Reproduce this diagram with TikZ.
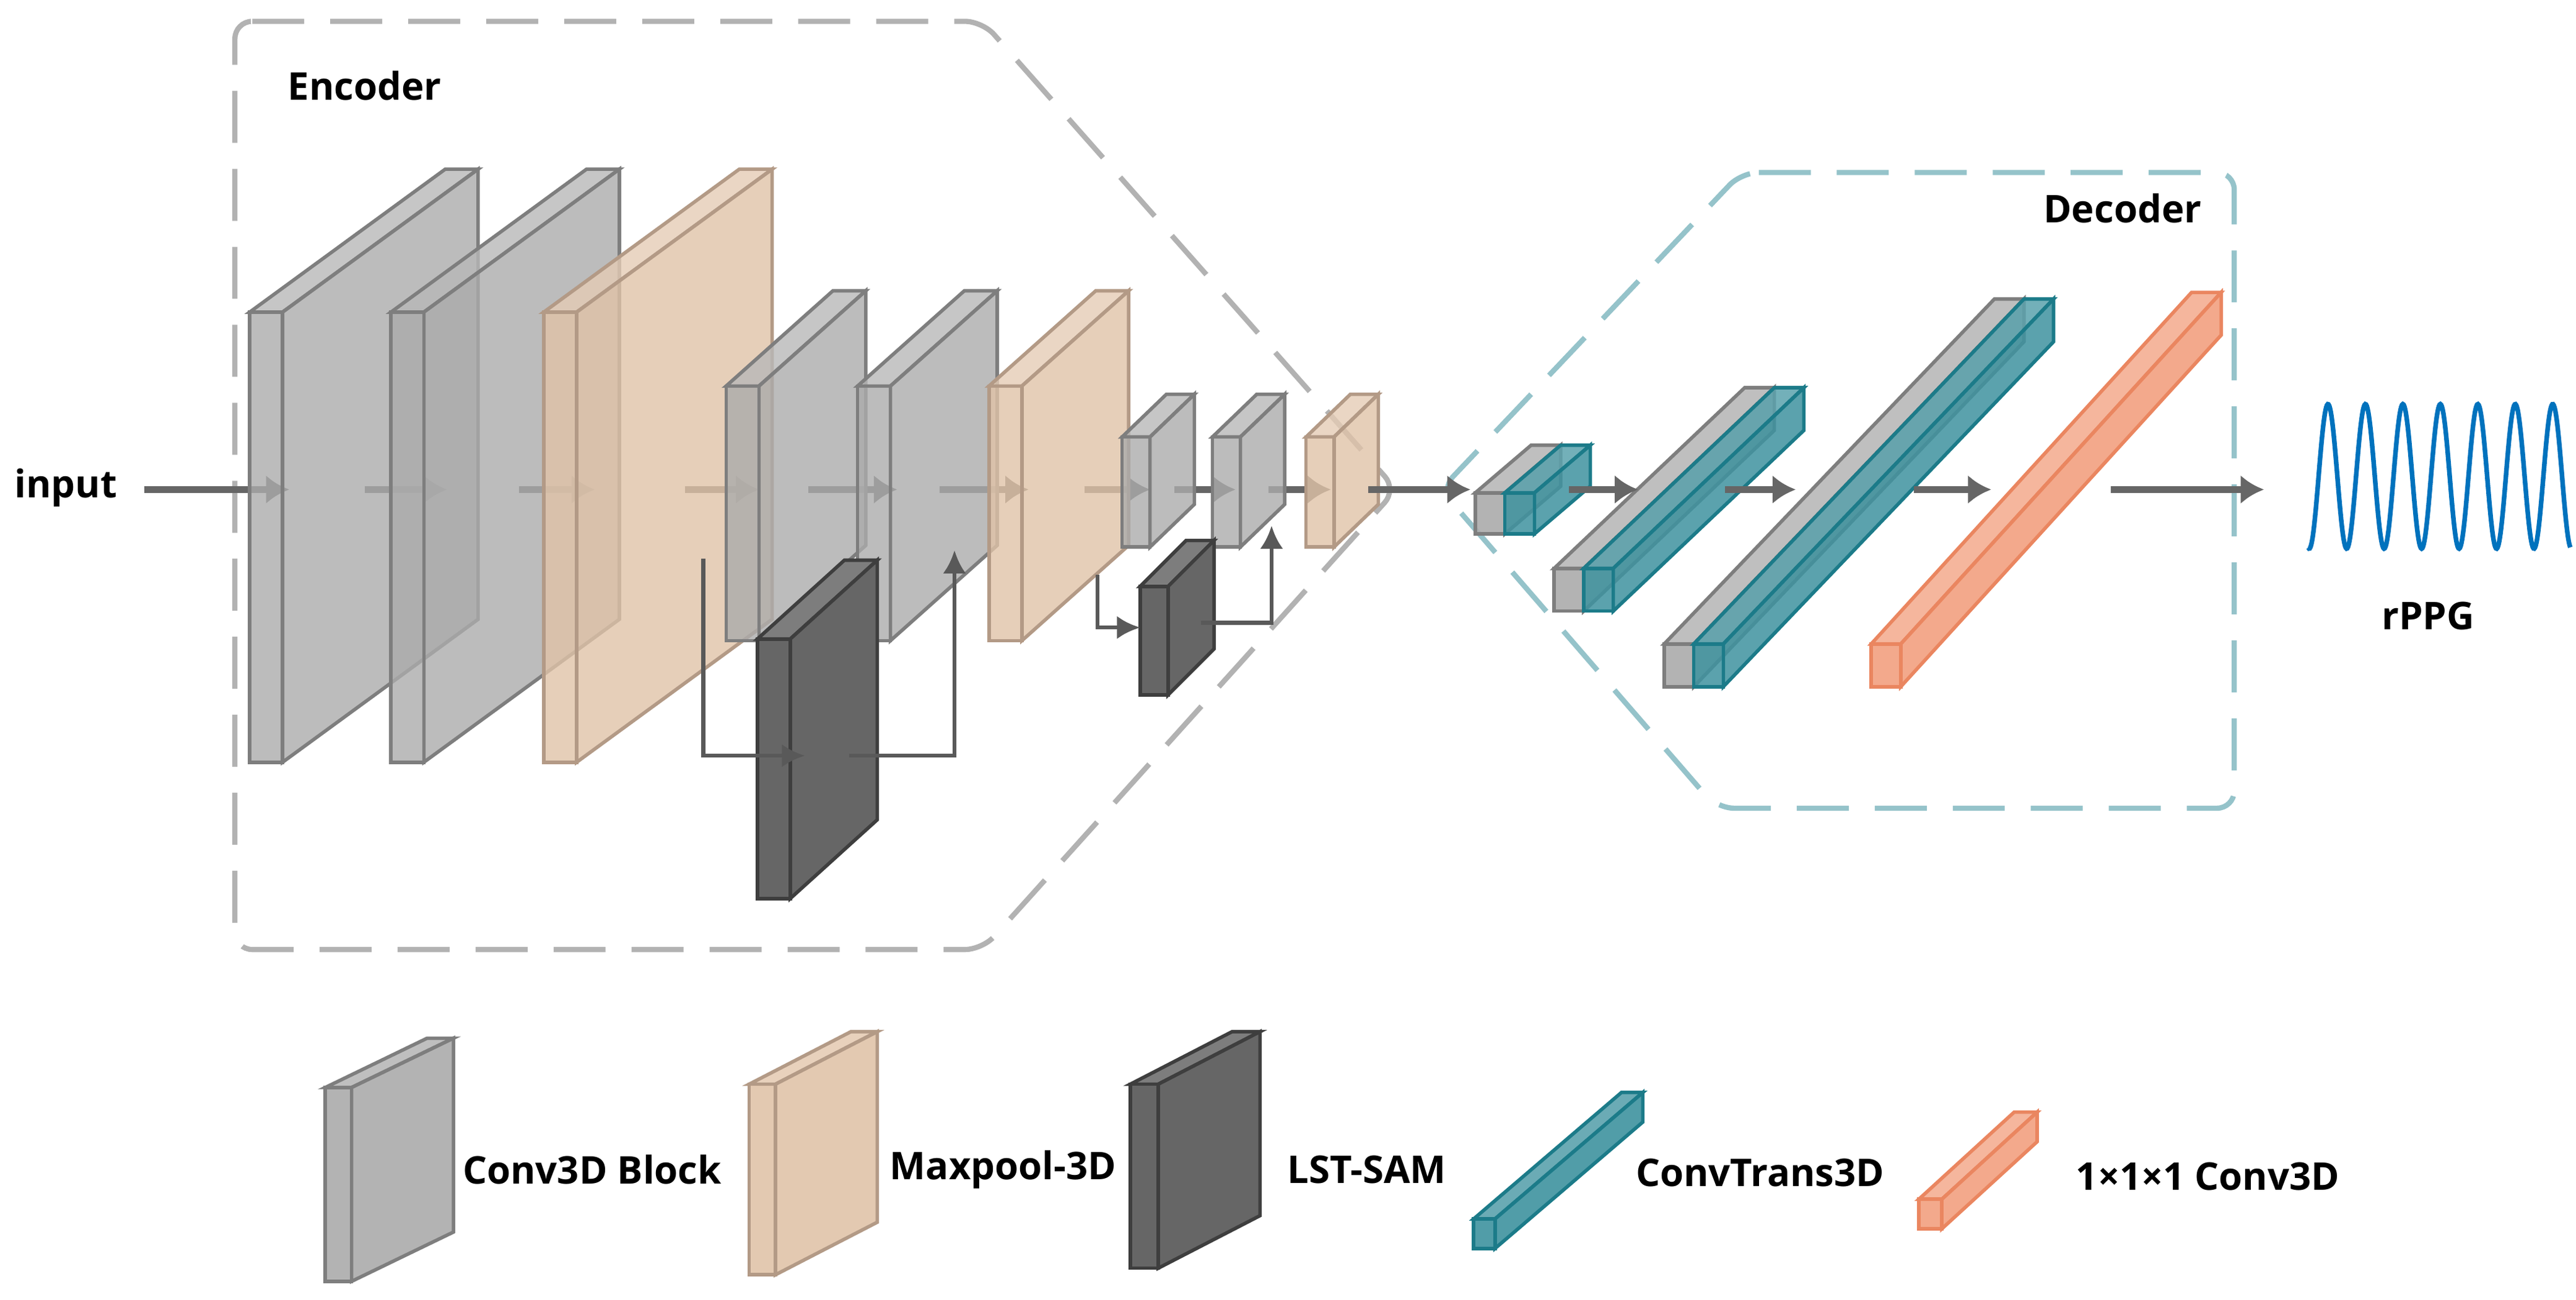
\documentclass[tikz,border=0pt]{standalone}
\usepackage{fontspec}
\setmainfont{Open Sans}
\usetikzlibrary{arrows.meta}
\begin{document}
\begin{tikzpicture}[x=0.01cm,y=-0.01cm,
  lbl/.style={font=\fontsize{6.6}{8}\selectfont\bfseries},
  leg/.style={lbl,anchor=west,inner sep=0pt},
  arr/.style={draw=black!60,line width=1.2pt,-{Latex[length=4pt,width=5pt]}},
  skip/.style={draw=black!65,line width=0.7pt,-{Latex[length=4pt,width=4pt]}},
  bnd/.style={line width=0.9pt,dash pattern=on 9pt off 4.5pt,rounded corners=3pt}]
\useasboundingbox (0,0) rectangle (1568,791);
\definecolor{cg}{HTML}{ABABAB}\definecolor{cgb}{HTML}{7E7E7E}
\definecolor{ct}{HTML}{E0C3A8}\definecolor{ctb}{HTML}{B39A86}
\definecolor{cd}{HTML}{666666}\definecolor{cdb}{HTML}{3E3E3E}
\definecolor{cte}{HTML}{3E929F}\definecolor{cteb}{HTML}{1C7B89}
\definecolor{co}{HTML}{F2A07F}\definecolor{cob}{HTML}{EA8660}
\newcommand\slab[8]{%
 \begin{scope}[fill opacity=#8,draw opacity=1,line width=0.6pt]
 \filldraw[fill=#7!85!white,draw=#7b] (#1,#2)--({#1+#5},{#2-#6})--({#1+#3+#5},{#2-#6})--({#1+#3},#2)--cycle;
 \filldraw[fill=#7,draw=#7b] ({#1+#3},#2)--({#1+#3+#5},{#2-#6})--({#1+#3+#5},{#2+#4-#6})--({#1+#3},{#2+#4})--cycle;
 \filldraw[fill=#7,draw=#7b] (#1,#2) rectangle ({#1+#3},{#2+#4});
 \end{scope}}
% boundaries
\draw[bnd,black!30] (143,13)--(598,13)--(850,298)--(598,578)--(143,578)--cycle;
\draw[bnd,cte!55!white] (1060,105)--(1360,105)--(1360,492)--(1045,492)--(877,298)--cycle;
% text
\node[lbl] (enc) at (222,52) {Encoder};
\node[lbl] (dec) at (1292,127) {Decoder};
\node[lbl] (inp) at (40,297) {input};
\node[lbl] (rppg) at (1478,375) {rPPG};
% arrows under slabs
\coordinate (a0) at (88,298);
\draw[arr] (a0)--(176,298);
\foreach \s/\e in {222/272,316/362,417/462,492/546,572/626,660/700,715/752,772/810}
  \draw[arr] (\s,298)--(\e,298);
% encoder slabs
\slab{152}{190}{20}{274}{119}{87}{cg}{0.8}
\slab{238}{190}{20}{274}{119}{87}{cg}{0.8}
\slab{331}{190}{20}{274}{119}{87}{ct}{0.8}
\slab{442}{235}{20}{155}{65}{58}{cg}{0.8}
\slab{522}{235}{20}{155}{65}{58}{cg}{0.8}
\slab{461}{389}{20}{158}{53}{48}{cd}{1}
\slab{602}{235}{20}{155}{65}{58}{ct}{0.8}
\slab{683}{266}{17}{67}{27}{26}{cg}{0.8}
\slab{738}{266}{17}{67}{27}{26}{cg}{0.8}
\slab{694}{357}{17}{66}{28}{28}{cd}{1}
\slab{795}{266}{17}{67}{27}{26}{ct}{0.8}
% skips
\draw[skip] (428,340)--(428,460)--(490,460);
\draw[skip] (517,460)--(581,460)--(581,335);
\draw[skip] (668,350)--(668,382)--(694,382);
\draw[skip] (731,379)--(774,379)--(774,320);
\draw[arr] (833,298)--(895,298);
% decoder bars
\slab{898}{300}{18}{25}{34}{29}{cg}{0.9}
\slab{916}{300}{18}{25}{34}{29}{cte}{0.85}
\slab{946}{346}{18}{26}{116}{110}{cg}{0.9}
\slab{964}{346}{18}{26}{116}{110}{cte}{0.85}
\slab{1013}{392}{18}{26}{201}{210}{cg}{0.9}
\slab{1031}{392}{18}{26}{201}{210}{cte}{0.85}
\slab{1139}{392}{18}{26}{195}{214}{co}{0.9}
\foreach \s/\e in {955/997,1050/1093,1165/1212,1285/1378}
  \draw[arr] (\s,298)--(\e,298);
% wave
\draw[color={rgb,255:red,0;green,114;blue,189},line width=0.8pt]
 plot[variable=\t,domain=0:7,samples=350] ({1405+22.8*\t},{290-44*sin(360*\t-100)});
% legend
\slab{198}{662}{16}{118}{62}{30}{cg}{0.9}
\node[leg] (l1) at (281,712) {Conv3D Block};
\slab{456}{660}{16}{116}{62}{32}{ct}{0.9}
\node[leg] (l2) at (541,712) {Maxpool-3D};
\slab{688}{660}{17}{112}{62}{32}{cd}{1}
\node[leg] (l3) at (783,712) {LST-SAM};
\slab{897}{742}{13}{18}{90}{77}{cte}{0.9}
\node[leg] (l4) at (995,714) {ConvTrans3D};
\slab{1168}{730}{14}{18}{58}{53}{co}{0.9}
\node[leg] (l5) at (1263,716) {1×1×1 Conv3D};
\end{tikzpicture}
\end{document}
